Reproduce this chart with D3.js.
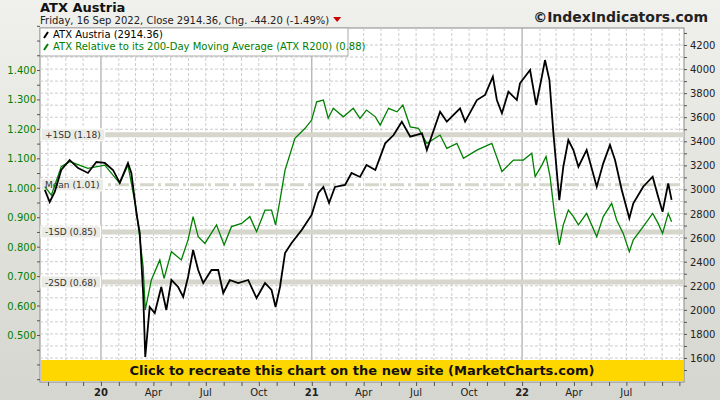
<!DOCTYPE html>
<html><head><meta charset="utf-8">
<script src="https://cdn.jsdelivr.net/npm/d3@7"></script>
<style>body{margin:0;background:#fff}svg{display:block;font-family:"DejaVu Sans",sans-serif}</style>
</head><body><svg id="c" width="720" height="400"></svg>
<script>
// decimal-year time, ATX close
const atxT=[2019.733,2019.756,2019.780,2019.811,2019.851,2019.891,2019.938,2019.978,2020.018,2020.057,2020.089,2020.128,2020.144,2020.168,2020.184,2020.200,2020.210,2020.231,2020.255,2020.286,2020.310,2020.334,2020.366,2020.390,2020.413,2020.437,2020.461,2020.485,2020.524,2020.556,2020.580,2020.611,2020.651,2020.698,2020.738,2020.778,2020.809,2020.828,2020.849,2020.873,2020.904,2020.952,2020.999,2021.031,2021.055,2021.082,2021.110,2021.158,2021.189,2021.229,2021.260,2021.302,2021.349,2021.389,2021.428,2021.468,2021.524,2021.547,2021.610,2021.642,2021.705,2021.729,2021.785,2021.824,2021.861,2021.880,2021.904,2021.935,2021.975,2021.990,2022.038,2022.067,2022.094,2022.109,2022.130,2022.149,2022.177,2022.196,2022.220,2022.244,2022.268,2022.307,2022.355,2022.386,2022.418,2022.442,2022.474,2022.510,2022.529,2022.576,2022.621,2022.647,2022.668,2022.695,2022.711];
const atxV=[2996,2896,2979,3162,3245,3178,3137,3228,3220,3162,3054,3220,3137,2804,2638,2140,1608,2024,1974,2190,1999,2248,2190,2107,2273,2497,2331,2223,2331,2331,2140,2248,2223,2248,2098,2223,2165,2024,2190,2472,2555,2663,2788,2971,3021,2888,3021,3037,3137,3104,3203,3162,3383,3452,3563,3438,3466,3328,3646,3563,3674,3563,3743,3785,3937,3743,3633,3812,3743,3882,3992,3702,3937,4075,3909,3466,2912,3189,3411,3328,3189,3328,3023,3217,3369,3245,2996,2760,2885,3023,3106,2940,2815,3051,2914];
const r200T=[2019.733,2019.764,2019.811,2019.851,2019.938,2020.018,2020.089,2020.128,2020.168,2020.200,2020.210,2020.239,2020.279,2020.299,2020.334,2020.381,2020.413,2020.437,2020.461,2020.493,2020.548,2020.584,2020.619,2020.667,2020.706,2020.738,2020.778,2020.809,2020.828,2020.849,2020.873,2020.920,2020.968,2020.999,2021.023,2021.055,2021.078,2021.102,2021.150,2021.197,2021.229,2021.260,2021.302,2021.325,2021.365,2021.405,2021.433,2021.468,2021.507,2021.547,2021.610,2021.642,2021.690,2021.721,2021.785,2021.856,2021.904,2021.959,2022.006,2022.046,2022.062,2022.094,2022.114,2022.133,2022.152,2022.177,2022.196,2022.220,2022.244,2022.268,2022.307,2022.355,2022.386,2022.426,2022.450,2022.481,2022.510,2022.529,2022.576,2022.621,2022.647,2022.668,2022.695,2022.711];
const r200V=[1.004,0.975,1.072,1.089,1.066,1.077,1.015,1.077,0.924,0.732,0.585,0.687,0.755,0.692,0.783,0.755,0.823,0.902,0.834,0.811,0.874,0.806,0.868,0.879,0.902,0.851,0.924,0.924,0.874,0.958,1.060,1.168,1.202,1.230,1.292,1.298,1.236,1.270,1.241,1.270,1.236,1.264,1.241,1.213,1.270,1.258,1.281,1.207,1.202,1.151,1.179,1.134,1.151,1.100,1.128,1.151,1.055,1.094,1.094,1.117,1.038,1.077,1.106,1.038,0.924,0.806,0.874,0.924,0.902,0.874,0.913,0.834,0.902,0.947,0.890,0.845,0.783,0.823,0.868,0.913,0.879,0.845,0.913,0.885];
const priceTicks=[1600,1800,2000,2200,2400,2600,2800,3000,3200,3400,3600,3800,4000,4200];
const ratioTicks=[0.5,0.6,0.7,0.8,0.9,1.0,1.1,1.2,1.3,1.4];
const bands=[{v:1.18,l:"+1SD (1.18)"},{v:0.85,l:"-1SD (0.85)"},{v:0.68,l:"-2SD (0.68)"}];
const meanBand={v:1.01,l:"Mean (1.01)"};

const toDate=t=>{const y=Math.floor(t);const s=new Date(y,0,1),e=new Date(y+1,0,1);return new Date(+s+(t-y)*(e-s));};
const svg=d3.select("#c");
const L=40,R=684,T=28,B=382;
const defs=svg.append("defs");
const g=defs.append("linearGradient").attr("id","bg").attr("x1",0).attr("y1",0).attr("x2",0).attr("y2",1);
g.append("stop").attr("offset",0).attr("stop-color","#f0f0ec");g.append("stop").attr("offset",1).attr("stop-color","#d6d6d0");
svg.append("rect").attr("width",720).attr("height",400).attr("fill","url(#bg)");
svg.append("rect").attr("x",L).attr("y",T).attr("width",R-L).attr("height",B-T).attr("fill","#fff").attr("stroke","#888");

const x=d3.scaleTime().domain([toDate(2019.71),toDate(2022.77)]).range([L,R]);
const yP=d3.scaleLinear().domain([1600,4200]).range([358,45]);
const yR=d3.scaleLinear().domain([0.5,1.4]).range([335,70]);

const months=d3.timeMonth.range(x.domain()[0],x.domain()[1]);
svg.append("g").selectAll("line").data(months).join("line")
 .attr("x1",d=>x(d)).attr("x2",d=>x(d)).attr("y1",T).attr("y2",B)
 .attr("stroke",d=>d.getMonth()==0?"#999":"#ccc").attr("stroke-dasharray",d=>d.getMonth()==0?null:"3,2");
svg.append("g").selectAll("line").data(d3.range(1600,4300,100)).join("line")
 .attr("x1",L).attr("x2",R).attr("y1",d=>yP(d)).attr("y2",d=>yP(d))
 .attr("stroke","#ccc").attr("stroke-dasharray","3,2");

bands.forEach(b=>svg.append("line").attr("x1",L).attr("x2",R).attr("y1",yR(b.v)).attr("y2",yR(b.v)).attr("stroke","#d6d6cc").attr("stroke-width",5));
svg.append("line").attr("x1",L).attr("x2",R).attr("y1",yR(meanBand.v)).attr("y2",yR(meanBand.v)).attr("stroke","#d6d6cc").attr("stroke-width",3).attr("stroke-dasharray","14,4,3,4");
[...bands,meanBand].forEach(b=>{
 const gg=svg.append("g");
 const r=gg.append("rect").attr("x",41).attr("y",yR(b.v)-6).attr("height",12).attr("fill","#ebebe6").attr("stroke","#fff");
 const t=gg.append("text").attr("x",45).attr("y",yR(b.v)+3.5).attr("font-size",9).attr("fill","#333").text(b.l);
 r.attr("width",t.node().getComputedTextLength()+8);
});

svg.append("path").datum(r200T.map((t,i)=>[toDate(t),r200V[i]]))
 .attr("d",d3.line().x(d=>x(d[0])).y(d=>yR(d[1]))).attr("fill","none").attr("stroke","#008000").attr("stroke-width",1.3);
svg.append("path").datum(atxT.map((t,i)=>[toDate(t),atxV[i]]))
 .attr("d",d3.line().x(d=>x(d[0])).y(d=>yP(d[1]))).attr("fill","none").attr("stroke","#000").attr("stroke-width",1.8);

svg.append("rect").attr("x",L).attr("y",T).attr("width",308).attr("height",28).attr("fill","#fff").attr("stroke","#aaa");
[["ATX Austria (2914.36)","#000"],["ATX Relative to its 200-Day Moving Average (ATX R200) (0.88)","#008000"]].forEach((d,i)=>{
 svg.append("line").attr("x1",44).attr("x2",48).attr("y1",38+i*12).attr("y2",32+i*12).attr("stroke",d[1]).attr("stroke-width",2);
 svg.append("text").attr("x",53).attr("y",38+i*12).attr("font-size",10).attr("fill",d[1]).text(d[0]);
});

svg.append("rect").attr("x",L+1).attr("y",360).attr("width",R-L-2).attr("height",21).attr("fill","#ffd700");
svg.append("text").attr("x",(L+R)/2).attr("y",375).attr("text-anchor","middle").attr("font-size",13).attr("font-weight","bold").attr("fill","#111").text("Click to recreate this chart on the new site (MarketCharts.com)");

const ax=svg.append("g").attr("transform",`translate(0,${B})`).call(d3.axisBottom(x).ticks(d3.timeMonth.every(1)).tickSize(4).tickFormat(""));
ax.select(".domain").remove();
svg.append("g").selectAll("text").data(months.filter(d=>d.getMonth()%3==0&&x(d)>60&&x(d)<670)).join("text")
 .attr("x",d=>x(d)).attr("y",396).attr("text-anchor","middle").attr("font-size",10)
 .attr("font-weight",d=>d.getMonth()==0?"bold":null).attr("fill","#222")
 .text(d=>d.getMonth()==0?d3.timeFormat("%y")(d):d3.timeFormat("%b")(d));
const ar=svg.append("g").attr("transform",`translate(${R},0)`).call(d3.axisRight(yP).tickValues(d3.range(1500,4400,100)).tickSize(3).tickFormat(""));
ar.select(".domain").remove();
svg.append("g").selectAll("text").data(priceTicks).join("text").attr("x",690).attr("y",d=>yP(d)+4).attr("font-size",10).attr("fill","#222").text(d=>d);
const al=svg.append("g").attr("transform",`translate(${L},0)`).call(d3.axisLeft(yR).tickValues(d3.range(0.35,1.55,0.05)).tickSize(3).tickFormat(""));
al.select(".domain").remove();
svg.append("g").selectAll("text").data(ratioTicks).join("text").attr("x",36).attr("y",d=>yR(d)+4).attr("text-anchor","end").attr("font-size",10).attr("fill","#008000").text(d=>d3.format(".3f")(d));
svg.selectAll(".tick line").attr("stroke","#555");

svg.append("text").attr("x",40).attr("y",12).attr("font-size",13).attr("font-weight","bold").attr("fill","#111").text("ATX Austria");
const st=svg.append("text").attr("x",40).attr("y",24).attr("font-size",10).attr("fill","#222").text("Friday, 16 Sep 2022, Close 2914.36, Chg. -44.20 (-1.49%)");
const sw=st.node().getComputedTextLength();
svg.append("path").attr("d",`M${44+sw},17 l8,0 l-4,5 z`).attr("fill","#cc0000");
svg.append("text").attr("x",708).attr("y",22).attr("text-anchor","end").attr("font-size",14).attr("font-weight","bold").attr("fill","#222").text("©IndexIndicators.com");
</script></body></html>
